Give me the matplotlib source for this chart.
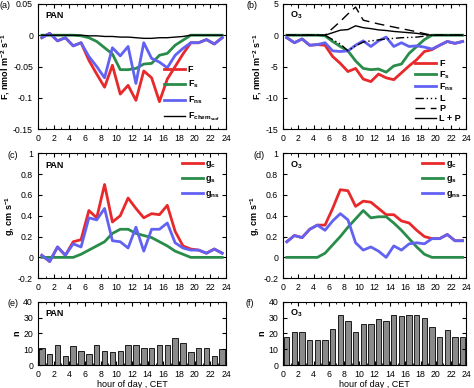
import matplotlib
matplotlib.use("Agg")
import matplotlib.pyplot as plt
from matplotlib.ticker import MultipleLocator, FuncFormatter

plt.rcParams['font.family'] = ['Liberation Sans', 'DejaVu Sans']
plt.rcParams['mathtext.fontset'] = 'custom'
plt.rcParams['mathtext.rm'] = 'Liberation Sans'
plt.rcParams['mathtext.bf'] = 'Liberation Sans:bold'
plt.rcParams['mathtext.default'] = 'bf'
plt.rcParams['axes.unicode_minus'] = False

hours = [h + 0.5 for h in range(24)]

# (a) PAN fluxes
F_pan = [-0.004, 0.003, -0.009, -0.004, -0.017, -0.012, -0.04, -0.062, -0.083, -0.048, -0.094, -0.08,
         -0.104, -0.057, -0.068, -0.106, -0.07, -0.05, -0.03, -0.012, -0.012, -0.007, -0.014, -0.004]
Fs_pan = [0, 0, 0, 0, 0, -0.001, -0.004, -0.01, -0.02, -0.03, -0.055, -0.055,
          -0.053, -0.046, -0.045, -0.032, -0.029, -0.016, -0.008, 0, 0, 0, 0, 0]
Fns_pan = [-0.004, 0.003, -0.009, -0.004, -0.017, -0.012, -0.034, -0.05, -0.068, -0.02, -0.033, -0.018,
           -0.077, -0.012, -0.037, -0.043, -0.052, -0.032, -0.021, -0.012, -0.012, -0.007, -0.014, -0.004]
Fchem_pan = [0, 0, 0, 0, 0, 0, -0.001, -0.001, -0.002, -0.002, -0.003, -0.003,
             -0.004, -0.005, -0.005, -0.004, -0.004, -0.003, -0.002, 0, 0, 0, 0, 0]

# (b) O3 fluxes
F_o3 = [-0.4, -1.2, -0.6, -1.6, -1.5, -1.6, -3.4, -4.5, -5.8, -5.3, -7.0, -7.4,
        -6.2, -6.8, -7.1, -6.0, -4.9, -3.9, -2.6, -2.3, -1.6, -1.0, -1.3, -1.0]
Fs_o3 = [0, 0, 0, 0, 0, -0.1, -1.0, -1.8, -2.5, -4.1, -5.3, -5.5,
         -5.4, -5.9, -4.9, -4.6, -2.9, -1.8, -0.7, 0, 0, 0, 0, 0]
Fns_o3 = [-0.4, -1.2, -0.6, -1.6, -1.5, -1.2, -2.5, -2.6, -2.5, -1.6, -0.9, -1.8,
          -0.9, -0.3, -1.8, -1.2, -1.8, -1.7, -1.9, -2.2, -1.6, -1.0, -1.3, -1.0]
L_o3 = [0, 0, 0, 0, 0, 0, -0.7, -1.4, -2.5, -1.7, -1.1, -0.9,
        -0.75, -0.6, -0.5, -0.4, -0.35, -0.3, -0.15, 0, 0, 0, 0, 0]
P_o3 = [0, 0, 0, 0, 0, 0, 1.1, 2.2, 3.4, 4.5, 2.4, 2.1,
        1.8, 1.55, 1.3, 1.05, 0.8, 0.55, 0.25, 0, 0, 0, 0, 0]
LP_o3 = [0, 0, 0, 0, 0, 0, 0.4, 0.8, 0.9, 1.5, 1.2, 1.05,
         0.85, 0.75, 0.6, 0.5, 0.4, 0.3, 0.1, 0, 0, 0, 0, 0]

# (c) PAN conductances
gc_pan = [0.02, -0.04, 0.1, 0.02, 0.15, 0.17, 0.45, 0.38, 0.70, 0.34, 0.40, 0.57,
          0.47, 0.38, 0.42, 0.41, 0.50, 0.25, 0.11, 0.08, 0.07, 0.04, 0.08, 0.04]
gs_pan = [0, 0, 0, 0, 0, 0.03, 0.07, 0.11, 0.15, 0.23, 0.27, 0.27,
          0.23, 0.21, 0.19, 0.15, 0.11, 0.06, 0.03, 0, 0, 0, 0, 0]
gns_pan = [0.02, -0.04, 0.1, 0.02, 0.13, 0.1, 0.38, 0.36, 0.47, 0.16, 0.15, 0.09,
           0.29, 0.06, 0.27, 0.27, 0.33, 0.14, 0.09, 0.07, 0.07, 0.04, 0.08, 0.04]

# (d) O3 conductances
gc_o3 = [0.15, 0.21, 0.19, 0.27, 0.31, 0.31, 0.47, 0.65, 0.64, 0.49, 0.54, 0.53,
         0.47, 0.41, 0.41, 0.35, 0.33, 0.26, 0.20, 0.18, 0.18, 0.22, 0.16, 0.16]
gs_o3 = [0, 0, 0, 0, 0, 0.04, 0.12, 0.2, 0.29, 0.37, 0.45, 0.38,
         0.39, 0.39, 0.33, 0.26, 0.18, 0.1, 0.03, 0, 0, 0, 0, 0]
gns_o3 = [0.15, 0.21, 0.19, 0.27, 0.31, 0.26, 0.35, 0.42, 0.36, 0.14, 0.07, 0.1,
          0.06, 0.0, 0.11, 0.07, 0.13, 0.14, 0.13, 0.18, 0.18, 0.22, 0.16, 0.16]

# (e), (f) number of data points
n_pan = [11, 7, 13, 6, 12, 9, 7, 13, 9, 8, 9, 13, 13, 11, 11, 13, 13, 17, 14, 8, 11, 11, 6, 10]
n_o3 = [18, 21, 21, 16, 16, 16, 23, 32, 28, 21, 26, 26, 29, 28, 32, 31, 32, 32, 30, 24, 18, 22, 18, 18]

red = '#e8292b'
green = '#2a8c4a'
blue = '#6262f2'

W, H = 474, 388
fig = plt.figure(figsize=(W / 100, H / 100), dpi=100)

lx, rx = 0.080, 0.597
wa, wb = 0.397, 0.387
ax_a = fig.add_axes([lx, 0.667, wa, 0.323])
ax_b = fig.add_axes([rx, 0.667, wb, 0.323])
ax_c = fig.add_axes([lx, 0.283, wa, 0.322])
ax_d = fig.add_axes([rx, 0.283, wb, 0.322])
ax_e = fig.add_axes([lx, 0.059, wa, 0.163])
ax_f = fig.add_axes([rx, 0.059, wb, 0.163])

fmt = FuncFormatter(lambda v, p: '%g' % round(v, 4))


def style(ax, ylo, yhi, ystep, label):
    ax.set_xlim(0, 24)
    ax.set_ylim(ylo, yhi)
    ax.xaxis.set_major_locator(MultipleLocator(2))
    ax.xaxis.set_minor_locator(MultipleLocator(1))
    ax.yaxis.set_major_locator(MultipleLocator(ystep))
    ax.yaxis.set_major_formatter(fmt)
    ax.tick_params(which='both', direction='in', top=True, right=True, labelsize=6.3, pad=3.5)
    ax.tick_params(which='major', length=3)
    ax.tick_params(which='minor', length=1.5)
    ax.set_ylabel(label, fontsize=6.5, fontweight='bold', labelpad=1)
    for s in ax.spines.values():
        s.set_linewidth(0.8)


# panel letters (pixel positions from the top-left corner)
letters = [('(a)', 0, 5), ('(b)', 247, 5), ('(c)', 8, 155), ('(d)', 253, 155), ('(e)', 8, 304), ('(f)', 245, 304)]
for s, px, py in letters:
    fig.text(px / W, 1 - py / H, s, fontsize=6.5, ha='left', va='center')

lw = 2.0


def legend(ax, loc, spacing):
    ax.legend(loc=loc, frameon=False, handlelength=2.3, handletextpad=0.3,
              labelspacing=spacing, borderaxespad=0.25, prop={'weight': 'bold', 'size': 6.5})


# (a)
ax_a.plot(hours, F_pan, color=red, lw=lw, label='F')
ax_a.plot(hours, Fs_pan, color=green, lw=lw, label='F$_s$')
ax_a.plot(hours, Fns_pan, color=blue, lw=lw, label='F$_{ns}$')
ax_a.plot(hours, Fchem_pan, color='black', lw=1.0, label='F$_{chem_{surf}}$')
style(ax_a, -0.15, 0.05, 0.05, 'F, nmol m$^{-2}$ s$^{-1}$')
ax_a.text(0.04, 0.91, 'PAN', transform=ax_a.transAxes, fontsize=6.5, fontweight='bold', va='center')
legend(ax_a, 'lower right', 0.5)

# (b)
ax_b.plot(hours, F_o3, color=red, lw=lw, label='F')
ax_b.plot(hours, Fs_o3, color=green, lw=lw, label='F$_s$')
ax_b.plot(hours, Fns_o3, color=blue, lw=lw, label='F$_{ns}$')
ax_b.plot(hours, L_o3, color='black', lw=1.0, ls=(0, (6, 2, 1, 2, 1, 2)), label='L')
ax_b.plot(hours, P_o3, color='black', lw=1.0, ls=(0, (7, 4)), label='P')
ax_b.plot(hours, LP_o3, color='black', lw=1.0, label='L + P')
style(ax_b, -15, 5, 5, 'F, nmol m$^{-2}$ s$^{-1}$')
ax_b.text(0.04, 0.91, 'O$_3$', transform=ax_b.transAxes, fontsize=6.5, fontweight='bold', va='center')
legend(ax_b, 'lower right', 0.12)

# (c)
ax_c.plot(hours, gc_pan, color=red, lw=lw, label='g$_c$')
ax_c.plot(hours, gs_pan, color=green, lw=lw, label='g$_s$')
ax_c.plot(hours, gns_pan, color=blue, lw=lw, label='g$_{ns}$')
style(ax_c, -0.2, 1.0, 0.2, 'g, cm s$^{-1}$')
ax_c.text(0.04, 0.906, 'PAN', transform=ax_c.transAxes, fontsize=6.5, fontweight='bold', va='center')
legend(ax_c, 'upper right', 0.45)

# (d)
ax_d.plot(hours, gc_o3, color=red, lw=lw, label='g$_c$')
ax_d.plot(hours, gs_o3, color=green, lw=lw, label='g$_s$')
ax_d.plot(hours, gns_o3, color=blue, lw=lw, label='g$_{ns}$')
style(ax_d, -0.2, 1.0, 0.2, 'g, cm s$^{-1}$')
ax_d.text(0.04, 0.906, 'O$_3$', transform=ax_d.transAxes, fontsize=6.5, fontweight='bold', va='center')
legend(ax_d, 'upper right', 0.45)

# (e), (f)
for ax, n, name in [(ax_e, n_pan, 'PAN'), (ax_f, n_o3, 'O$_3$')]:
    ax.bar(hours, n, width=0.7, color='#8a8a8a', edgecolor='black', linewidth=0.6)
    style(ax, 0, 40, 10, 'n')
    ax.text(0.04, 0.82, name, transform=ax.transAxes, fontsize=6.5, fontweight='bold', va='center')
    ax.set_xlabel('hour of day , CET', fontsize=6.5, labelpad=0.5)

fig.savefig('out.png', dpi=100)
